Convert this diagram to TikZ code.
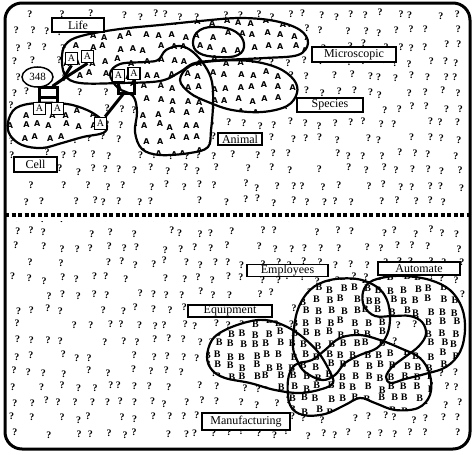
\documentclass[tikz,border=0pt]{standalone}
\usepackage{fontspec}
\setmainfont{Liberation Serif}
\newfontfamily\Afont{DejaVu Sans}
\usetikzlibrary{shapes.geometric}
\def\lifeP{plot[smooth cycle,tension=0.6] coordinates {(62,55) (68,42) (85,35) (120,29) (160,25) (200,21) (240,18) (275,21) (300,30) (308,43) (298,55) (265,58) (225,60) (195,63) (180,72) (160,81) (120,83) (80,83) (65,75)}}
\def\microP{plot[smooth cycle,tension=0.7] coordinates {(193,42) (200,30) (218,27) (236,32) (244,44) (238,55) (218,57) (199,53)}}
\def\speciesP{plot[smooth cycle,tension=0.6] coordinates {(180,80) (190,66) (215,61) (250,61) (278,68) (294,80) (297,93) (287,106) (262,112) (232,110) (208,102) (190,93)}}
\def\animalP{plot[smooth cycle,tension=0.6] coordinates {(110,74) (120,64) (145,62) (158,60) (166,50) (180,46) (193,52) (205,66) (212,82) (213,105) (211,130) (208,147) (190,153) (160,155) (142,149) (135,132) (137,112) (133,96) (118,88)}}
\def\cellP{plot[smooth cycle,tension=0.6] coordinates {(8,122) (16,108) (37,103) (67,104) (87,110) (100,118) (107,126) (103,133) (83,137) (62,143) (42,148) (22,145) (10,135)}}
\def\equipP{plot[smooth cycle,tension=0.6] coordinates {(207,357) (212,340) (225,330) (247,322) (265,320) (283,325) (300,335) (318,352) (330,372) (333,383) (322,389) (300,393) (275,390) (250,383) (225,378) (212,370)}}
\def\employP{plot[smooth cycle,tension=0.6] coordinates {(293,345) (297,312) (310,290) (330,280) (357,279) (377,287) (387,300) (390,318) (387,335) (377,348) (360,355) (345,363) (335,375) (322,380) (305,372) (297,360)}}
\def\manuP{plot[smooth cycle,tension=0.6] coordinates {(288,380) (295,365) (312,360) (325,350) (340,338) (360,335) (380,340) (400,348) (420,358) (430,375) (430,395) (418,408) (395,410) (375,403) (360,398) (345,405) (325,414) (303,415) (290,405)}}
\def\autoP{plot[smooth cycle,tension=0.6] coordinates {(375,316) (364,306) (363,292) (370,282) (386,277) (405,276) (430,280) (450,290) (462,308) (465,330) (460,352) (446,367) (425,374) (405,379) (391,383) (386,377) (392,367) (405,357) (419,346) (426,334) (422,322) (410,316) (393,316)}}
\begin{document}
\begin{tikzpicture}[x=1pt,y=-1pt,
 qm/.style={font=\fontsize{10}{10}\selectfont\bfseries,inner sep=0pt},
 aa/.style={font=\Afont\fontsize{8}{8}\selectfont\bfseries,inner sep=0pt},
 bb/.style={font=\fontsize{10}{10}\selectfont\bfseries,inner sep=0pt},
 lbl/.style={draw,line width=1.4pt,fill=white,font=\fontsize{12}{12}\selectfont,inner sep=0pt},
 abox/.style={draw,line width=1.2pt,fill=white,font=\fontsize{10}{10}\selectfont,inner sep=0pt,minimum width=12pt,minimum height=12.5pt},
 blob/.style={line width=2.2pt,line join=round},
 conn/.style={line width=3pt}]
\useasboundingbox (0,0) rectangle (474,455);
\fill[white] (0,0) rectangle (474,455);
% scattered question marks
\pgfmathsetseed{4711}
\foreach \i in {0,...,29}{
  \foreach \j in {0,...,27}{
    \pgfmathsetmacro\qx{15+\i*15.3+4*rand}
    \pgfmathsetmacro\qy{15+\j*15.5+2.5*rand}
    \pgfmathtruncatemacro\keep{rnd<0.85}
    \ifnum\keep=1 \node[qm] at (\qx,\qy) {?};\fi
  }
}
% blank the set regions
\fill[white] \lifeP; \fill[white] \microP; \fill[white] \speciesP; \fill[white] \animalP; \fill[white] \cellP;
\fill[white] \equipP; \fill[white] \employP; \fill[white] \manuP; \fill[white] \autoP;
% A letters
\begin{scope}
\clip \lifeP \microP \speciesP \animalP \cellP;
\foreach \i in {0,...,22}{
  \foreach \j in {0,...,11}{
    \pgfmathsetmacro\ax{10+\i*13.5+3*rand}
    \pgfmathsetmacro\ay{22+\j*13+3*rand}
    \node[aa] at (\ax,\ay) {A};
  }
}
\end{scope}
% B letters
\begin{scope}
\clip \equipP \employP \manuP \autoP;
\foreach \i in {0,...,21}{
  \foreach \j in {0,...,13}{
    \pgfmathsetmacro\bx{205+\i*12.5+2.5*rand}
    \pgfmathsetmacro\by{278+\j*11+2.5*rand}
    \node[bb] at (\bx,\by) {B};
  }
}
\end{scope}
% outlines
\draw[blob] \lifeP; \draw[blob] \microP; \draw[blob] \speciesP; \draw[blob] \animalP; \draw[blob] \cellP;
\draw[blob] \equipP; \draw[blob] \employP; \draw[blob] \manuP; \draw[blob] \autoP;
% separator
\fill[white] (6,209) rectangle (469,221);
\coordinate (sepL) at (5,215);
\coordinate (sepR) at (470,215);
\draw[line width=3.5pt,dash pattern=on 4pt off 2.5pt] (sepL) -- (sepR);
% frame
\draw[line width=3pt,rounded corners=17pt] (5,3) rectangle (470,449);
% labels
\node[lbl,minimum width=52pt,minimum height=14pt] (life) at (78,25) {Life};
\node[lbl,minimum width=43pt,minimum height=15pt] (cell) at (35.5,164.5) {Cell};
\node[lbl,minimum width=84pt,minimum height=15pt] (micro) at (354,54.5) {Microscopic};
\node[lbl,minimum width=66pt,minimum height=14pt] (species) at (330,105) {Species};
\node[lbl,minimum width=44pt,minimum height=12pt] (animal) at (240,139) {Animal};
\node[lbl,minimum width=81pt,minimum height=12pt] (employees) at (287.5,270.5) {Employees};
\node[lbl,minimum width=82pt,minimum height=13pt] (automate) at (419,268.5) {Automate};
\node[lbl,minimum width=84pt,minimum height=12pt] (equipment) at (230,311) {Equipment};
\node[lbl,minimum width=88pt,minimum height=17pt] (manufacturing) at (246,421.5) {Manufacturing};
% 348 and hub
\node[draw,ellipse,line width=1.5pt,fill=white,minimum width=31pt,minimum height=20pt,inner sep=0pt,font=\fontsize{11}{11}\selectfont] (n348) at (37.5,77) {348};
\node[draw,line width=2.5pt,fill=white,minimum width=18pt,minimum height=10pt,inner sep=0pt] (hub) at (48.5,92.5) {};
% A boxes
\node[abox] (la1) at (71.5,58.5) {A};
\node[abox] (la2) at (87.5,56.5) {A};
\node[abox] (aa1) at (118.5,75.5) {A};
\node[abox] (aa2) at (134,73.5) {A};
\node[abox] (ca1) at (39.5,108.5) {A};
\node[abox] (ca2) at (57.5,108.5) {A};
\node[abox] (cr) at (100.5,123.5) {A};
% connectors
\coordinate (j1) at (63,79);
\draw[conn] ([xshift=4pt]hub.north) -- (j1) -- (la1.south);
\draw[conn] (j1) -- (la2.south);
\draw[conn] (ca1.north) -- (ca1.north |- hub.south);
\draw[conn] (ca2.north) -- (ca2.north |- hub.south);
\coordinate (bl) at (118.5,93);
\coordinate (br) at (134,93);
\coordinate (bm) at (124,93);
\draw[conn,line join=miter] (aa1.south) -- (bl) -- (br) -- (aa2.south);
\draw[conn] (bm) -- ([xshift=-2pt]cr.north east);
\end{tikzpicture}
\end{document}
